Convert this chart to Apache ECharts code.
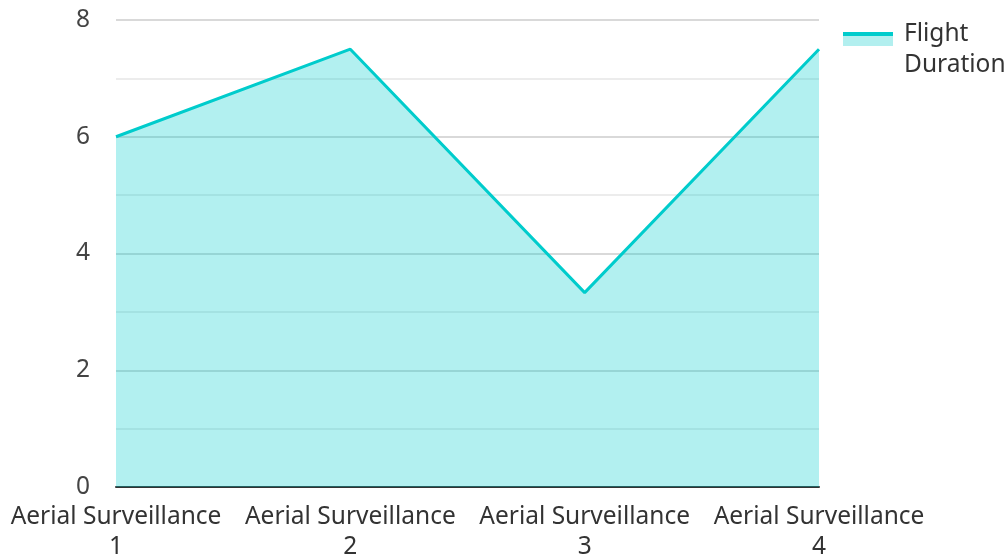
<!DOCTYPE html>
<html>
<head>
<meta charset="utf-8">
<script src="https://cdn.jsdelivr.net/npm/echarts@6/dist/echarts.min.js"></script>
<style>
  html, body { margin: 0; padding: 0; background: #fff; }
  #chart { width: 1008px; height: 558px; }
</style>
</head>
<body>
<div id="chart"></div>
<script>
const categories = ["Aerial Surveillance\n1", "Aerial Surveillance\n2", "Aerial Surveillance\n3", "Aerial Surveillance\n4"];
const flightDuration = [6, 7.5, 3.33, 7.5];
const seriesName = "Flight Duration";

const chart = echarts.init(document.getElementById("chart"));
const font = "'Noto Sans', 'Open Sans', sans-serif";

// legend swatch sits beside the first text line: thick line on top, light fill below
const swatch = new echarts.graphic.LinearGradient(0, 0, 0, 1, [
  { offset: 0, color: "rgba(0,0,0,0)" },
  { offset: 0.22, color: "rgba(0,0,0,0)" },
  { offset: 0.22, color: "#00cccc" },
  { offset: 0.285, color: "#00cccc" },
  { offset: 0.285, color: "#b2efef" },
  { offset: 0.44, color: "#b2efef" },
  { offset: 0.44, color: "rgba(0,0,0,0)" },
  { offset: 1, color: "rgba(0,0,0,0)" }
]);

chart.setOption({
  animation: false,
  textStyle: { fontFamily: font },
  grid: { left: 116, right: 189, top: 20, bottom: 71, outerBoundsMode: "none" },
  legend: {
    left: 838,
    top: 13,
    orient: "vertical",
    icon: "rect",
    itemWidth: 50,
    itemHeight: 63,
    itemGap: 10,
    formatter: (name) => name.replace(" ", "\n"),
    itemStyle: { color: swatch },
    textStyle: { fontSize: 24.5, color: "#333", lineHeight: 31.5, padding: [0, 0, 0, 6], fontFamily: font },
    data: [seriesName]
  },
  xAxis: {
    type: "category",
    data: categories,
    boundaryGap: false,
    axisLine: { lineStyle: { color: "#333", width: 2 } },
    axisTick: { show: false },
    axisLabel: { interval: 0, fontSize: 24.5, color: "#333", lineHeight: 30, margin: 15, fontFamily: font }
  },
  yAxis: {
    type: "value",
    min: 0,
    max: 8,
    interval: 2,
    axisLine: { show: false },
    axisTick: { show: false },
    axisLabel: { fontSize: 24.5, color: "#444", margin: 26, fontFamily: font },
    splitLine: { lineStyle: { color: "#ccc", width: 1.5 } },
    minorTick: { show: false, splitNumber: 2 },
    minorSplitLine: { show: true, lineStyle: { color: "#e6e6e6", width: 1.5 } }
  },
  series: [{
    name: seriesName,
    type: "line",
    data: flightDuration,
    symbol: "none",
    lineStyle: { color: "#00cccc", width: 3 },
    itemStyle: { color: "#00cccc" },
    areaStyle: { color: "#00cccc", opacity: 0.3 }
  }]
});
</script>
</body>
</html>
